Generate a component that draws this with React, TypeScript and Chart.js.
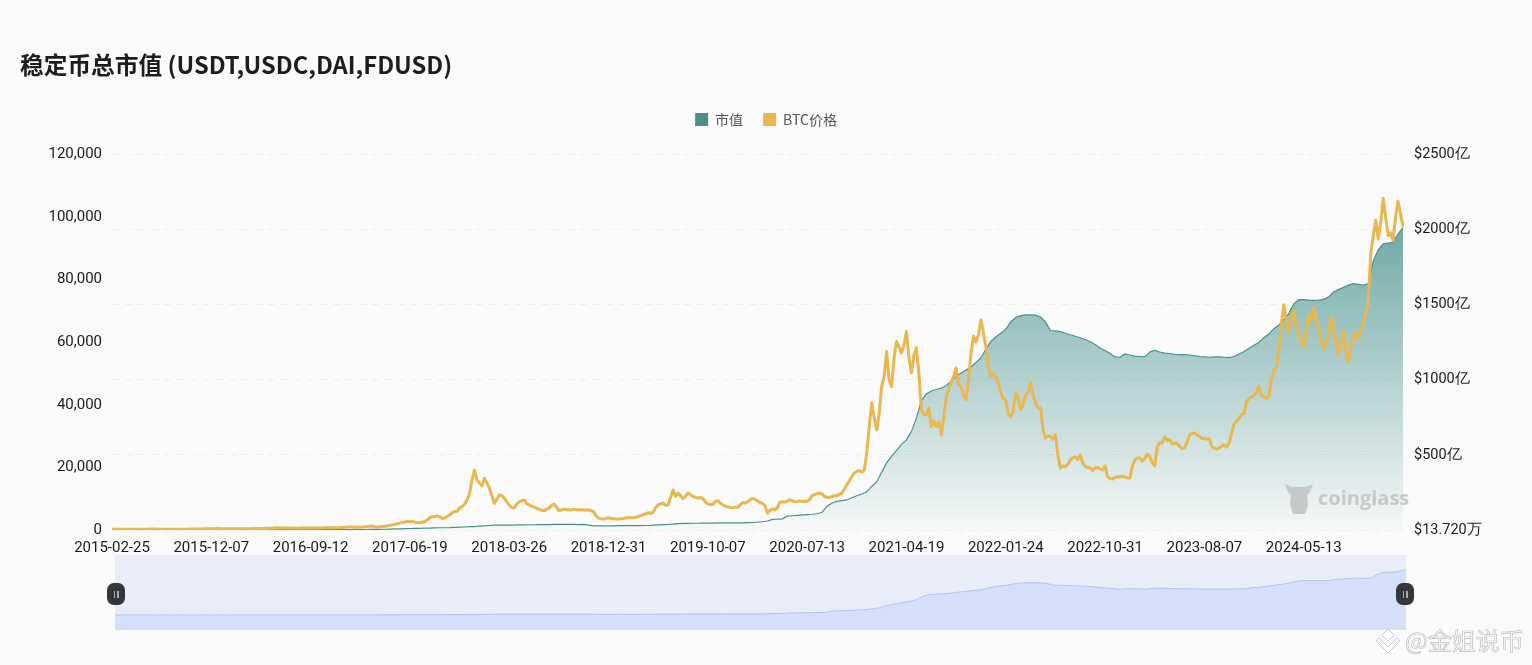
import { useEffect, useRef } from "react";
import { Chart, registerables } from "chart.js";

Chart.register(...registerables);

const tickDates = ["2015-02-25", "2015-12-07", "2016-09-12", "2017-06-19", "2018-03-26", "2018-12-31", "2019-10-07", "2020-07-13", "2021-04-19", "2022-01-24", "2022-10-31", "2023-08-07", "2024-05-13"];
const rightTicks = [0.00137, 500, 1000, 1500, 2000, 2500];
const rightLabels = ["$13.720万", "$500亿", "$1000亿", "$1500亿", "$2000亿", "$2500亿"];

// BTC price, USD, one reading a week
const btcPrice = [
  270, 278, 285, 255, 240, 238, 235, 228, 225, 232, 240, 242, 245, 255, 270, 280, 290, 285, 280, 270, 260, 245, 230, 232, 235, 232, 230, 235, 240, 255, 270, 285, 300, 330, 375, 350, 330, 360, 390, 395,
  400, 430, 450, 440, 430, 400, 380, 385, 400, 415, 430, 425, 420, 418, 415, 425, 430, 440, 450, 455, 450, 480, 530, 560, 580, 640, 700, 680, 660, 650, 670, 660, 650, 610, 580, 585, 600, 605, 610, 610,
  610, 610, 610, 625, 640, 660, 700, 705, 710, 720, 730, 750, 770, 820, 900, 930, 960, 920, 900, 910, 920, 980, 1000, 1120, 1190, 1240, 1050, 960, 1050, 1130, 1200, 1340, 1500, 1700, 1800, 2000, 2200, 2400, 2550, 2700,
  2600, 2700, 2500, 2400, 2250, 2500, 2700, 3200, 4000, 4200, 4300, 4500, 4200, 3700, 3800, 4300, 4800, 5500, 5900, 6000, 7000, 7500, 8200, 9500, 11500, 16000, 19200, 16000, 15000, 14000, 16500, 15000, 13400, 11000, 8500, 9800, 11200, 11000, 10200, 9000,
  8000, 7200, 7000, 8300, 9000, 9300, 9600, 8500, 8000, 7600, 7400, 7000, 6700, 6300, 6100, 6700, 7000, 7800, 8300, 7300, 6200, 6400, 6700, 6500, 6500, 6400, 6600, 6500, 6500, 6450, 6400, 6400, 6400, 6200, 5800, 4500, 3800, 3600, 3500, 3700,
  3900, 3650, 3600, 3500, 3500, 3600, 3700, 3850, 3900, 3950, 3900, 4050, 4250, 4600, 4900, 5200, 5500, 5300, 5700, 7200, 8000, 8300, 8600, 7900, 8000, 10500, 12800, 10800, 11800, 11000, 10000, 10800, 11800, 11300, 10700, 10400, 10200, 10400, 10000, 9000,
  8300, 8100, 8200, 9100, 9400, 8700, 8000, 7600, 7400, 7200, 7100, 7400, 7200, 8000, 8800, 8600, 9000, 9700, 10100, 9800, 9300, 8800, 8500, 7800, 5400, 6200, 6700, 6500, 7000, 8800, 9000, 8900, 9200, 9700, 9400, 9000, 9100, 9300, 9100, 9200,
  9200, 9700, 11000, 11300, 11600, 11800, 11500, 10700, 10400, 10400, 10700, 11000, 10900, 11400, 11800, 13100, 14500, 15700, 17000, 18300, 18700, 19000, 18500, 19200, 24500, 33000, 40600, 36000, 32000, 37000, 45800, 49000, 57000, 48000, 45800, 55000, 60200, 58500, 56600, 59000,
  63400, 55000, 50200, 56000, 58200, 50000, 38400, 37000, 36800, 39000, 33000, 35000, 33000, 34500, 30400, 36000, 42200, 45000, 47000, 49000, 51800, 46500, 45800, 43000, 41600, 48000, 56600, 62000, 60000, 62500, 67200, 63000, 58600, 52000, 49000, 50000, 49000, 47000, 43800, 42000,
  41600, 37000, 36200, 38000, 43800, 42000, 38400, 40000, 43000, 44000, 47000, 43000, 40600, 39000, 39000, 32000, 29400, 30000, 29800, 29000, 30400, 24000, 19800, 20500, 20200, 21000, 22400, 23000, 23400, 22500, 24000, 21500, 20200, 20000, 19800, 19000, 19800, 20000, 19500, 19200,
  20500, 17000, 16500, 16300, 16800, 17000, 16900, 17200, 16900, 16700, 16600, 20500, 22400, 23000, 23000, 22000, 22800, 24300, 23500, 21500, 20500, 26500, 28000, 27800, 29800, 28500, 29000, 27500, 27800, 27500, 26800, 26000, 26200, 28000, 30400, 30800, 31000, 30300, 30000, 29200,
  29400, 29000, 29200, 26500, 26200, 25800, 26200, 26800, 27200, 26500, 27800, 31000, 34000, 34800, 35700, 37000, 37300, 41000, 42000, 42500, 43000, 44000, 46000, 43000, 42500, 42000, 43000, 48000, 51000, 52000, 57000, 66000, 72000, 67000, 63000, 67000, 70000, 65000, 63000, 60000,
  58500, 63000, 69000, 67000, 71000, 67000, 65000, 60500, 58000, 60000, 62000, 68000, 66000, 60000, 56000, 59000, 63500, 57500, 53500, 58500, 62000, 63000, 61000, 63500, 66500, 69000, 73500, 88000, 94000, 99000, 93000, 98000, 106000, 100000, 94000, 95000, 92500, 100000, 105000, 101000, 97000,
];

// stablecoin market cap, in 亿 USD, one reading every second week
const marketCap = [
  0.1, 0.1, 0.1, 0.1, 0.1, 0.1, 0.2, 0.2, 0.2, 0.2, 0.2, 0.2, 0.2, 0.2, 0.3, 0.3, 0.3, 0.3, 0.3, 0.4,
  0.4, 0.5, 0.5, 0.6, 0.6, 0.7, 0.8, 0.9, 1, 1, 1.2, 1.4, 1.6, 1.8, 2, 2, 2, 2, 2, 2,
  2, 2, 2.5, 2.5, 2.5, 3, 3, 3, 3, 3, 3, 3, 3.5, 4, 4, 5, 6, 7, 8, 9,
  10, 11, 11, 12, 13, 14, 15, 15, 16, 18, 19, 20, 22, 23, 26, 28, 30, 32, 33, 33,
  33, 33, 34, 34, 35, 35, 36, 36, 36, 37, 37, 37, 37, 37, 36, 37, 32, 28, 27, 28,
  28, 28, 29, 29, 29, 29, 29, 30, 30, 32, 34, 36, 37, 39, 42, 44, 44, 45, 45, 46,
  46, 46, 47, 47, 47, 48, 48, 48, 49, 50, 52, 55, 60, 71, 72, 74, 92, 95, 98, 101,
  103, 105, 108, 118, 158, 180, 190, 195, 200, 215, 228, 240, 255, 290, 320, 385, 447, 490, 530, 570,
  600, 655, 745, 860, 905, 925, 935, 945, 960, 990, 1020, 1045, 1065, 1085, 1115, 1145, 1205, 1255, 1285, 1310,
  1335, 1385, 1415, 1427, 1432, 1433, 1430, 1418, 1385, 1328, 1325, 1320, 1310, 1300, 1290, 1280, 1268, 1253, 1235, 1212,
  1195, 1175, 1152, 1150, 1172, 1165, 1158, 1155, 1152, 1185, 1195, 1185, 1178, 1175, 1170, 1168, 1167, 1165, 1160, 1155,
  1153, 1150, 1152, 1152, 1150, 1148, 1155, 1172, 1188, 1210, 1230, 1250, 1280, 1305, 1340, 1365, 1400, 1440, 1505, 1533,
  1533, 1530, 1528, 1530, 1535, 1550, 1585, 1600, 1615, 1630, 1640, 1635, 1630, 1640, 1790, 1865, 1905, 1910, 1915, 1970, 2013,
];

// first point is 2015-02-25, then the weekly grid that lands on the tick dates
const categories = btcPrice.map((_, i) => {
  if (i === 0) return tickDates[0];
  const d = new Date(Date.UTC(2015, 11, 7) + (i - 40) * 7 * 86400000);
  return d.toISOString().slice(0, 10);
});
const capPoints = marketCap.map((y, i) => ({ x: categories[i * 2], y }));

const CAP_COLOR = "#4a908a";
const BTC_COLOR = "#e8b84f";
const dateFont = { family: "Roboto", size: 15 };
const rightFont = { family: "Roboto", size: 14.5 };

const handleStyle = (left: number): React.CSSProperties => ({
  position: "absolute",
  left,
  top: 583,
  width: 18,
  height: 22,
  borderRadius: 7,
  background: "#33363b",
  display: "flex",
  alignItems: "center",
  justifyContent: "center",
  gap: 2,
});

const Handle = ({ left }: { left: number }) => (
  <div style={handleStyle(left)}>
    <div style={{ width: 1.5, height: 7, background: "#a5a7aa" }} />
    <div style={{ width: 1.5, height: 7, background: "#a5a7aa" }} />
  </div>
);

export default function App() {
  const mainRef: any = useRef(null);
  const miniRef: any = useRef(null);

  useEffect(() => {
    const legendGap = {
      id: "legendGap",
      beforeInit(chart: any) {
        const fit = chart.legend.fit;
        chart.legend.fit = function () {
          fit.call(this);
          this.height += 18;
        };
      },
    };

    const main = new Chart(mainRef.current.getContext("2d"), {
      type: "line",
      plugins: [legendGap],
      data: {
        labels: categories,
        datasets: [
          {
            label: "BTC价格",
            data: btcPrice,
            yAxisID: "y",
            borderColor: BTC_COLOR,
            backgroundColor: BTC_COLOR,
            borderWidth: 3,
            borderJoinStyle: "round",
            pointRadius: 0,
            order: 1,
          },
          {
            label: "市值",
            data: capPoints,
            yAxisID: "y1",
            borderColor: CAP_COLOR,
            borderWidth: 1.2,
            pointRadius: 0,
            fill: "start",
            order: 2,
            backgroundColor: (ctx: any) => {
              const { chart } = ctx;
              if (!chart.chartArea) return CAP_COLOR;
              const top = chart.scales.y1.getPixelForValue(2013);
              const g = chart.ctx.createLinearGradient(0, top, 0, chart.chartArea.bottom);
              g.addColorStop(0, "rgba(78,150,146,0.8)");
              g.addColorStop(1, "rgba(78,150,146,0.02)");
              return g;
            },
          },
        ],
      },
      options: {
        responsive: false,
        animation: false,
        events: [],
        layout: { padding: { left: 20, right: 20 } },
        plugins: {
          tooltip: { enabled: false },
          title: {
            display: true,
            text: "稳定币总市值 (USDT,USDC,DAI,FDUSD)",
            align: "start",
            color: "#1d1d1d",
            font: { family: "'Noto Sans CJK SC'", size: 23.7, weight: "bold" },
            padding: { top: 51, bottom: 13 },
          },
          legend: {
            display: true,
            labels: {
              color: "#555555",
              boxWidth: 13,
              boxHeight: 13,
              padding: 20,
              font: { family: "'Noto Sans CJK SC'", size: 14 },
              generateLabels() {
                return [
                  { text: "市值", fillStyle: CAP_COLOR, strokeStyle: CAP_COLOR, lineWidth: 0, fontColor: "#555555", datasetIndex: 1 },
                  { text: "BTC价格", fillStyle: BTC_COLOR, strokeStyle: BTC_COLOR, lineWidth: 0, fontColor: "#555555", datasetIndex: 0 },
                ];
              },
            },
          },
        },
        scales: {
          x: {
            grid: { display: false },
            border: { display: false },
            afterFit(axis: any) {
              axis.height = 135;
            },
            ticks: {
              autoSkip: false,
              maxRotation: 0,
              minRotation: 0,
              color: "#1a1a1a",
              font: dateFont,
              padding: 1,
              callback(this: any, value: any) {
                const label = this.getLabelForValue(value);
                return tickDates.includes(label) ? label : null;
              },
            },
          },
          y: {
            position: "left",
            min: 0,
            max: 120000,
            grid: { display: false },
            border: { display: false },
            afterFit(axis: any) {
              axis.width = 92;
            },
            ticks: {
              stepSize: 20000,
              color: "#1a1a1a",
              font: dateFont,
              padding: 2,
              callback: (value: any) => Number(value).toLocaleString("en-US"),
            },
          },
          y1: {
            position: "right",
            min: rightTicks[0],
            max: 2500,
            border: { display: false, dash: [7, 6] },
            grid: { color: "#eeeeee", tickLength: 0, drawTicks: false },
            afterFit(axis: any) {
              axis.width = 109;
            },
            afterBuildTicks(axis: any) {
              axis.ticks = rightTicks.map((value) => ({ value }));
            },
            ticks: {
              color: "#1a1a1a",
              font: rightFont,
              padding: 11,
              callback: (value: any) => rightLabels[rightTicks.indexOf(value)],
            },
          },
        },
      },
    } as any);

    const mini = new Chart(miniRef.current.getContext("2d"), {
      type: "line",
      data: {
        labels: marketCap.map((_, i) => categories[i * 2]),
        datasets: [
          {
            data: marketCap,
            borderColor: "#b4c2ec",
            backgroundColor: "#d6dffa",
            borderWidth: 1,
            pointRadius: 0,
            fill: "start",
          },
        ],
      },
      options: {
        responsive: false,
        animation: false,
        events: [],
        layout: { padding: 0 },
        plugins: { legend: { display: false }, tooltip: { enabled: false } },
        scales: {
          x: { display: false },
          y: { display: false, min: -670, max: 2670 },
        },
      },
    } as any);

    return () => {
      main.destroy();
      mini.destroy();
    };
  }, []);

  return (
    <div style={{ position: "absolute", left: 0, top: 0, width: 1532, height: 665, background: "#fafafa", overflow: "hidden" }}>
      <canvas ref={mainRef} width={1532} height={665} style={{ position: "absolute", left: 0, top: 0 }} />
      <canvas ref={miniRef} width={1291} height={75} style={{ position: "absolute", left: 115, top: 555, background: "#e8edf8" }} />
      <Handle left={107} />
      <Handle left={1396} />
      <svg width={30} height={34} viewBox="0 0 30 34" style={{ position: "absolute", left: 1284, top: 481 }}>
        <path d="M1 3 L8 6 L22 6 L29 3 L26 11 L23 14 L24 24 L21 33 L9 33 L6 24 L7 14 L4 11 Z" fill="#c6c9c9" />
      </svg>
      <div style={{ position: "absolute", left: 1318, top: 484, font: "700 20px 'Open Sans'", color: "#c6c9c9" }}>coinglass</div>
      <svg width={28} height={30} viewBox="0 0 28 30" style={{ position: "absolute", left: 1374, top: 627 }}>
        <path d="M14 2 L20 8 L14 14 L8 8 Z M5 11 L14 20 L23 11 L26 14 L14 26 L2 14 Z" fill="#ffffff" stroke="#c8c8c8" strokeWidth={1} />
      </svg>
      <div style={{ position: "absolute", left: 1405, top: 622, font: "24px 'Noto Sans CJK SC'", color: "#ffffff", WebkitTextStroke: "0.7px #bdbdbd", whiteSpace: "nowrap" }}>@金姐说币</div>
    </div>
  );
}
